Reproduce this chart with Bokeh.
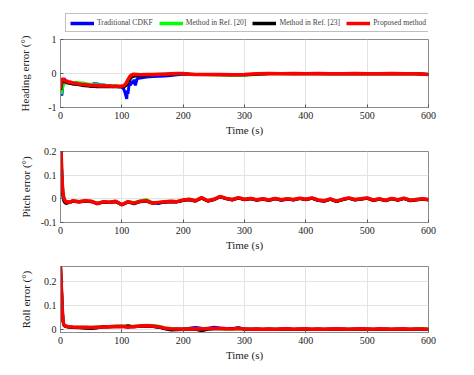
from bokeh.plotting import figure
from bokeh.layouts import column
from bokeh.models import Range1d, FixedTicker, Legend, LegendItem
from bokeh.embed import file_html
from bokeh.resources import INLINE

# ---------------- data ----------------
series_names = ["Traditional CDKF", "Method in Ref. [20]", "Method in Ref. [23]", "Proposed method"]
series_colors = ["#0000ff", "#00ff00", "#000000", "#ff0000"]
x_ticks = [0, 100, 200, 300, 400, 500, 600]

t_heading = [0, 1, 2, 3, 4, 5, 6, 8, 10, 12,
             15, 20, 25, 30, 35, 40, 45, 50, 55, 60, 65, 70, 75, 80, 85, 90, 95, 100,
             103, 105, 107, 108, 109, 110, 112, 114, 116, 118, 120, 122, 125,
             130, 140, 150, 160, 170, 180, 190, 200, 210,
             220, 240, 260, 280, 300, 320, 340, 360, 380, 400, 420, 440, 460, 480, 500, 520, 540, 560, 580, 600]

heading_cdkf = [-0.45, -0.55, -0.65, -0.50, -0.30, -0.25, -0.15, -0.20, -0.25, -0.27,
                -0.28, -0.30, -0.31, -0.31, -0.32, -0.32, -0.33, -0.33, -0.30, -0.31, -0.33, -0.34, -0.35, -0.36, -0.37, -0.38, -0.39, -0.40,
                -0.45, -0.55, -0.68, -0.75, -0.50, -0.60, -0.30, -0.35, -0.22, -0.30, -0.18, -0.35, -0.15,
                -0.13, -0.10, -0.09, -0.08, -0.07, -0.06, -0.04, -0.02, -0.02,
                -0.03, -0.03, -0.03, -0.04, -0.04, -0.02, 0.00, 0.00, 0.00, -0.01, 0.00, -0.01, -0.01, 0.00, -0.01, -0.01, 0.00, -0.01, -0.01, -0.03]
heading_ref20 = [-0.50, -0.60, -0.55, -0.45, -0.35, -0.32, -0.30, -0.28, -0.27, -0.26,
                 -0.26, -0.27, -0.26, -0.27, -0.28, -0.29, -0.31, -0.32, -0.32, -0.33, -0.34, -0.34, -0.35, -0.36, -0.36, -0.37, -0.37, -0.38,
                 -0.38, -0.37, -0.33, -0.30, -0.27, -0.24, -0.17, -0.12, -0.08, -0.06, -0.05, -0.05, -0.05,
                 -0.05, -0.04, -0.04, -0.03, -0.03, -0.02, -0.01, -0.01, -0.02,
                 -0.03, -0.04, -0.04, -0.05, -0.05, -0.03, -0.01, 0.00, -0.01, -0.01, 0.00, -0.01, -0.01, 0.00, -0.01, -0.01, 0.00, -0.01, -0.01, -0.03]
heading_ref23 = [-0.48, -0.40, -0.30, -0.25, -0.20, -0.24, -0.22, -0.25, -0.26, -0.28,
                 -0.29, -0.31, -0.32, -0.33, -0.35, -0.36, -0.37, -0.38, -0.38, -0.39, -0.39, -0.39, -0.39, -0.39, -0.39, -0.39, -0.39, -0.39,
                 -0.39, -0.38, -0.35, -0.33, -0.30, -0.27, -0.20, -0.15, -0.11, -0.09, -0.08, -0.07, -0.07,
                 -0.06, -0.05, -0.04, -0.03, -0.02, -0.02, -0.01, -0.01, -0.02,
                 -0.03, -0.03, -0.04, -0.04, -0.04, -0.02, 0.00, 0.00, -0.01, 0.00, 0.00, -0.01, -0.01, 0.00, -0.01, -0.01, 0.00, -0.01, -0.01, -0.03]
heading_prop = [-0.45, -0.30, -0.15, -0.20, -0.13, -0.22, -0.18, -0.24, -0.20, -0.26,
                -0.25, -0.28, -0.29, -0.31, -0.32, -0.33, -0.34, -0.35, -0.35, -0.36, -0.37, -0.36, -0.37, -0.37, -0.38, -0.37, -0.38, -0.37,
                -0.36, -0.33, -0.28, -0.25, -0.22, -0.18, -0.12, -0.07, -0.04, -0.03, -0.02, -0.03, -0.03,
                -0.04, -0.03, -0.03, -0.02, -0.02, -0.01, 0.00, 0.00, -0.02,
                -0.03, -0.03, -0.03, -0.04, -0.03, -0.01, 0.00, -0.01, 0.00, -0.01, 0.00, -0.01, -0.01, 0.00, -0.01, -0.01, 0.00, -0.01, -0.01, -0.03]

t_pr = [0, 1, 2, 3, 4, 5, 6, 8, 10, 12, 15] + list(range(20, 601, 10))

pitch_cdkf = [0.26, 0.19, 0.11, 0.05, 0.02, 0.005, -0.005, -0.012, -0.016, -0.014, -0.014,
              -0.009, -0.012, -0.009, -0.011, -0.019, -0.013, -0.014, -0.011, -0.024, -0.013,
              -0.017, -0.011, -0.009, -0.017, -0.020, -0.013, -0.011, -0.012, -0.006, -0.003,
              -0.008, 0.004, -0.008, -0.003, 0.009, 0.002, -0.004, 0.004, -0.003, 0.001,
              -0.005, -0.001, -0.005, 0.001, -0.005, -0.001, -0.004, 0.002, -0.003, 0.003,
              -0.006, -0.009, -0.001, -0.011, -0.003, 0.003, -0.004, -0.001, 0.003, -0.006,
              -0.001, -0.007, 0.001, -0.005, 0.002, -0.007, -0.004, -0.001, -0.004]
pitch_ref20 = [0.25, 0.20, 0.12, 0.06, 0.03, 0.01, 0.00, -0.010, -0.014, -0.012, -0.014,
               -0.008, -0.011, -0.008, -0.010, -0.019, -0.012, -0.013, -0.010, -0.024, -0.012,
               -0.016, -0.009, -0.003, -0.016, -0.015, -0.012, -0.010, -0.011, -0.005, -0.002,
               -0.007, 0.005, -0.007, -0.002, 0.010, 0.003, -0.003, 0.005, -0.002, 0.002,
               -0.004, 0.000, -0.004, 0.002, -0.004, 0.000, -0.003, 0.003, -0.002, 0.004,
               -0.005, -0.008, 0.000, -0.010, -0.002, 0.004, -0.003, 0.000, 0.004, -0.005,
               0.000, -0.006, 0.002, -0.004, 0.003, -0.004, -0.003, 0.001, -0.003]
pitch_ref23 = [0.24, 0.18, 0.10, 0.04, 0.01, -0.005, -0.012, -0.018, -0.020, -0.017, -0.016,
               -0.010, -0.013, -0.010, -0.012, -0.021, -0.014, -0.015, -0.012, -0.026, -0.014,
               -0.021, -0.012, -0.010, -0.019, -0.016, -0.014, -0.012, -0.013, -0.007, -0.004,
               -0.010, 0.003, -0.010, -0.004, 0.008, 0.000, -0.005, 0.003, -0.004, 0.000,
               -0.006, -0.002, -0.007, 0.000, -0.006, -0.002, -0.005, 0.001, -0.004, 0.002,
               -0.007, -0.010, -0.002, -0.012, -0.004, 0.002, -0.005, -0.002, 0.002, -0.007,
               -0.002, -0.008, 0.000, -0.006, 0.001, -0.008, -0.005, -0.002, -0.005]
pitch_prop = [0.25, 0.20, 0.12, 0.06, 0.03, 0.01, 0.00, -0.010, -0.015, -0.012, -0.015,
              -0.008, -0.012, -0.008, -0.010, -0.020, -0.012, -0.014, -0.010, -0.025, -0.012,
              -0.018, -0.010, -0.008, -0.018, -0.015, -0.012, -0.010, -0.012, -0.005, -0.002,
              -0.008, 0.005, -0.008, -0.002, 0.010, 0.002, -0.003, 0.005, -0.002, 0.002,
              -0.004, 0.000, -0.005, 0.002, -0.004, 0.000, -0.003, 0.003, -0.002, 0.004,
              -0.005, -0.008, 0.000, -0.010, -0.002, 0.004, -0.003, 0.000, 0.004, -0.005,
              0.000, -0.006, 0.002, -0.004, 0.003, -0.006, -0.003, 0.000, -0.003]

roll_cdkf = [0.26, 0.20, 0.14, 0.08, 0.04, 0.025, 0.018, 0.015, 0.013, 0.012, 0.012,
             0.010, 0.009, 0.009, 0.008, 0.010, 0.012, 0.013, 0.014, 0.013, 0.012,
             0.012, 0.014, 0.015, 0.014, 0.010, 0.004, 0.002, 0.003, 0.004, 0.006,
             0.009, 0.006, 0.005, 0.010, 0.007, 0.005, 0.004, 0.008, 0.003, 0.002,
             0.002, 0.001, 0.002, 0.001, 0.002, 0.002, 0.001, 0.002, 0.002, 0.001,
             0.002, 0.001, 0.002, 0.002, 0.002, 0.001, 0.002, 0.002, 0.002, 0.001,
             0.002, 0.002, 0.001, 0.002, 0.002, 0.001, 0.002, 0.002, 0.001]
roll_ref20 = [0.26, 0.20, 0.14, 0.08, 0.04, 0.025, 0.018, 0.016, 0.014, 0.013, 0.012,
              0.011, 0.010, 0.010, 0.010, 0.011, 0.012, 0.013, 0.014, 0.015, 0.013,
              0.014, 0.016, 0.018, 0.017, 0.014, 0.008, 0.004, 0.002, 0.002, 0.003,
              0.003, 0.002, 0.003, 0.004, 0.003, 0.002, 0.002, 0.003, 0.002, 0.001,
              0.002, 0.001, 0.002, 0.001, 0.002, 0.002, 0.001, 0.002, 0.002, 0.001,
              0.002, 0.001, 0.002, 0.002, 0.002, 0.001, 0.002, 0.002, 0.002, 0.001,
              0.002, 0.002, 0.001, 0.002, 0.002, 0.001, 0.002, 0.002, 0.001]
roll_ref23 = [0.26, 0.20, 0.14, 0.08, 0.04, 0.022, 0.016, 0.013, 0.012, 0.011, 0.010,
              0.009, 0.008, 0.006, 0.004, 0.007, 0.012, 0.011, 0.013, 0.012, 0.016,
              0.012, 0.014, 0.015, 0.013, 0.010, 0.003, -0.002, -0.001, 0.000, 0.002,
              0.001, -0.005, 0.001, 0.003, 0.004, 0.003, 0.004, 0.007, 0.001, 0.000,
              0.001, 0.000, 0.001, 0.000, 0.001, 0.002, 0.000, 0.001, 0.001, 0.000,
              0.001, 0.000, 0.001, 0.001, 0.001, 0.000, 0.001, 0.001, 0.001, 0.000,
              0.001, 0.001, 0.000, 0.001, 0.001, 0.000, 0.001, 0.001, 0.000]
roll_prop = [0.26, 0.20, 0.14, 0.08, 0.04, 0.025, 0.018, 0.015, 0.014, 0.013, 0.012,
             0.011, 0.010, 0.010, 0.009, 0.010, 0.011, 0.012, 0.013, 0.014, 0.010,
             0.013, 0.015, 0.016, 0.015, 0.012, 0.006, 0.003, 0.002, 0.001, 0.002,
             0.003, 0.002, 0.004, 0.005, 0.004, 0.003, 0.002, 0.004, 0.002, 0.001,
             0.002, 0.001, 0.002, 0.001, 0.002, 0.003, 0.001, 0.002, 0.003, 0.001,
             0.002, 0.001, 0.002, 0.003, 0.002, 0.001, 0.002, 0.003, 0.002, 0.001,
             0.003, 0.002, 0.001, 0.002, 0.003, 0.001, 0.002, 0.002, 0.001]

heading_ticks = [-1, 0, 1]
heading_labels = ["-1", "0", "1"]
pitch_ticks = [-0.1, 0, 0.1, 0.2]
pitch_labels = ["-0.1", "0", "0.1", "0.2"]
roll_ticks = [0, 0.1, 0.2]
roll_labels = ["0", "0.1", "0.2"]

FONT = "Liberation Serif"
LINE_WIDTHS = [3, 3, 3, 3.5]


def make_panel(height, top, bottom, ylab, yr, yticks, ylabels, t, ys, ylab_standoff):
    p = figure(width=474, height=height, output_backend="svg", toolbar_location=None,
               x_range=Range1d(0, 600), y_range=Range1d(*yr),
               min_border_left=60, min_border_right=46,
               min_border_top=top, min_border_bottom=bottom)
    p.background_fill_color = "white"
    p.border_fill_color = "white"
    p.outline_line_color = "#8c8c8c"
    p.outline_line_width = 1
    for ax in (p.xaxis[0], p.yaxis[0]):
        ax.axis_line_color = "#8c8c8c"
        ax.major_tick_line_color = "#555555"
        ax.major_tick_in = 3
        ax.major_tick_out = 0
        ax.minor_tick_line_color = None
        ax.major_label_text_font = FONT
        ax.major_label_text_font_size = "10px"
        ax.major_label_text_color = "#222222"
        ax.axis_label_text_font = FONT
        ax.axis_label_text_font_size = "11px"
        ax.axis_label_text_font_style = "normal"
        ax.axis_label_text_color = "#222222"
    p.xaxis.ticker = FixedTicker(ticks=x_ticks)
    p.xaxis.axis_label = "Time (s)"
    p.xaxis.major_label_standoff = 4
    p.xaxis.axis_label_standoff = 2
    p.yaxis.ticker = FixedTicker(ticks=yticks)
    p.yaxis.major_label_overrides = {tk: lb for tk, lb in zip(yticks, ylabels)}
    p.yaxis.axis_label = ylab
    p.yaxis.major_label_standoff = 4
    p.yaxis.axis_label_standoff = ylab_standoff
    p.xgrid.ticker = FixedTicker(ticks=x_ticks)
    p.ygrid.ticker = FixedTicker(ticks=yticks)
    p.grid.grid_line_color = "#e3e3e3"
    p.grid.grid_line_width = 1
    for y, c, w in zip(ys, series_colors, LINE_WIDTHS):
        p.line(t, y, line_color=c, line_width=w)
    return p


# legend strip: its own small figure; its lines hold no visible data
p0 = figure(width=474, height=35, output_backend="svg", toolbar_location=None,
            x_range=Range1d(0, 1), y_range=Range1d(0, 1),
            min_border_left=60, min_border_right=0, min_border_top=0, min_border_bottom=0)
p0.axis.visible = False
p0.grid.visible = False
p0.outline_line_color = None
p0.background_fill_color = "white"
p0.border_fill_color = "white"
nan = float("nan")
leg_rends = [p0.line([nan, nan], [nan, nan], line_color=c, line_width=3.5) for c in series_colors]
legend = Legend(items=[LegendItem(label=n, renderers=[r]) for n, r in zip(series_names, leg_rends)],
                orientation="horizontal", location=(5, 3),
                label_text_font=FONT, label_text_font_size="7.6px",
                glyph_width=24, glyph_height=8, label_standoff=3, spacing=6,
                padding=4, margin=0, border_line_color="#808080",
                label_height=8, background_fill_alpha=1.0)
p0.add_layout(legend, "center")

p1 = make_panel(103, 4, 29, "Heading error (°)", (-1, 1), heading_ticks, heading_labels,
                t_heading, [heading_cdkf, heading_ref20, heading_ref23, heading_prop], 14)
p2 = make_panel(115, 13, 28, "Pitch error (°)", (-0.1, 0.2), pitch_ticks, pitch_labels,
                t_pr, [pitch_cdkf, pitch_ref20, pitch_ref23, pitch_prop], 6)
p3 = make_panel(122, 13, 43, "Roll error (°)", (-0.012, 0.26), roll_ticks, roll_labels,
                t_pr, [roll_cdkf, roll_ref20, roll_ref23, roll_prop], 9)

layout = column(p0, p1, p2, p3, spacing=0)
open("out.html", "w").write(file_html(layout, INLINE))
